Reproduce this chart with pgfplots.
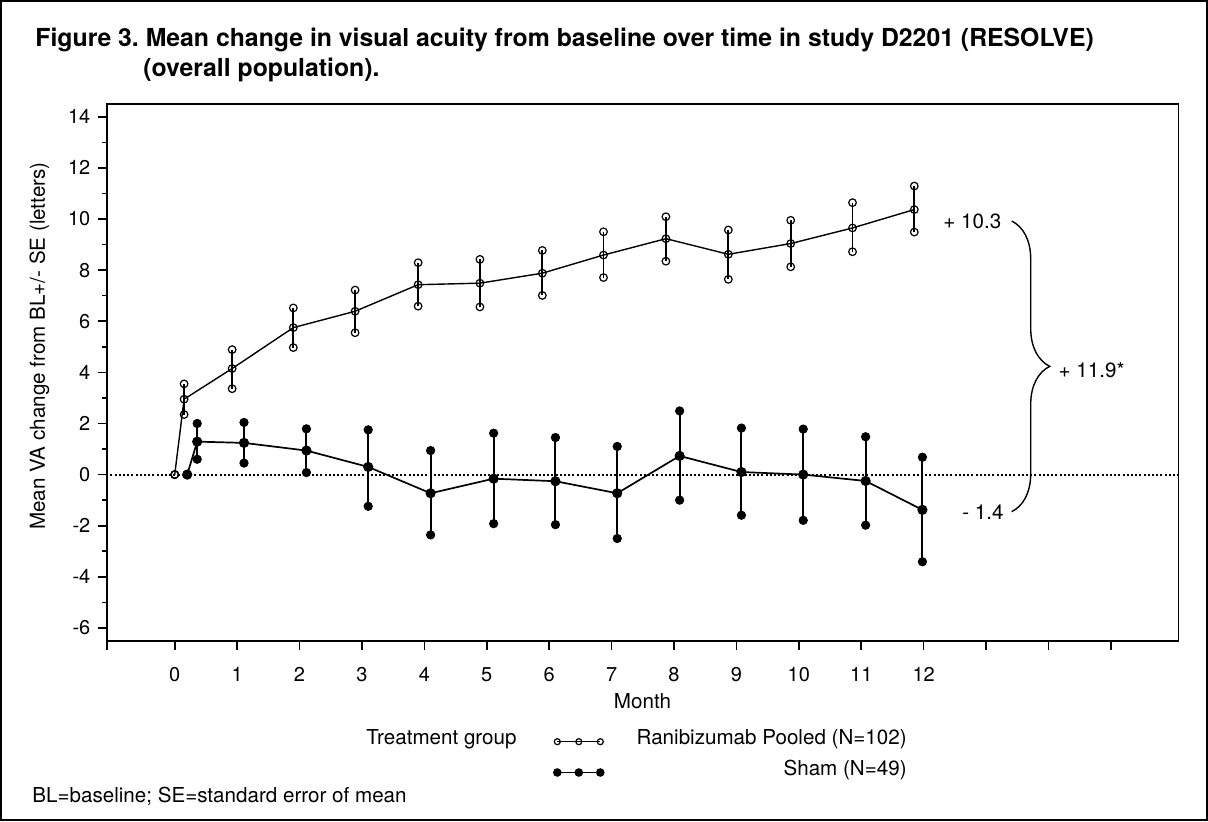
\documentclass[border=0pt]{standalone}
\usepackage{fontspec}
\setmainfont{TeX Gyre Heros}
\usepackage{pgfplots}
\usepackage{pgfplotstable}
\pgfplotsset{compat=1.18}
\usetikzlibrary{decorations.pathreplacing}
\frenchspacing

\pgfplotstableread{
x y ep em
0.00 0.00 0 0
0.15 2.95 0.60 0.60
0.92 4.15 0.74 0.79
1.90 5.75 0.77 0.78
2.89 6.39 0.83 0.84
3.90 7.43 0.86 0.84
4.89 7.49 0.93 0.93
5.89 7.88 0.89 0.87
6.87 8.59 0.91 0.88
7.87 9.23 0.86 0.88
8.87 8.62 0.95 0.98
9.87 9.04 0.91 0.91
10.86 9.65 0.99 0.93
11.85 10.37 0.92 0.88
}\rani

\pgfplotstableread{
x y ep em
0.20 0.00 0 0
0.36 1.29 0.71 0.69
1.11 1.24 0.80 0.79
2.11 0.94 0.85 0.86
3.10 0.30 1.45 1.54
4.10 -0.73 1.67 1.63
5.11 -0.16 1.78 1.76
6.10 -0.26 1.71 1.70
7.09 -0.73 1.83 1.77
8.09 0.73 1.76 1.73
9.08 0.10 1.72 1.69
10.07 0.00 1.78 1.79
11.07 -0.25 1.73 1.73
11.98 -1.38 2.06 2.03
}\sham

\newcommand{\txt}{\fontsize{10.3}{12}\selectfont}
\pgfplotsset{
  ranileg/.style={legend image code/.code={\draw[##1, mark size=1.5pt] plot coordinates {(0pt,-1pt) (10.75pt,-1pt) (21.5pt,-1pt)};}},
  shamleg/.style={legend image code/.code={\draw[##1, mark size=1.7pt] plot coordinates {(0pt,-1pt) (10.75pt,-1pt) (21.5pt,-1pt)};}},
}

\begin{document}
\begin{tikzpicture}[x=1pt,y=1pt]
\draw[line width=1pt] (-52.85,-89.65) rectangle (550.15,319.85);
\begin{axis}[
  at={(0,0)}, anchor=south west,
  scale only axis, width=535.8pt, height=268.35pt,
  xmin=-1.09, xmax=16.08, ymin=-6.5, ymax=14.5,
  axis line style={line width=0.8pt},
  xtick={-1.09,0,1,2,3,4,5,6,7,8,9,10,11,12,13,14,15},
  xticklabels={,0,1,2,3,4,5,6,7,8,9,10,11,12,,,},
  ytick={-6,-4,-2,0,2,4,6,8,10,12,14},
  yticklabels={-6,-4,-2,0,2,4,6,8,10,12,14},
  minor ytick={-5,-3,-1,1,3,5,7,9,11,13},
  tick align=outside, xtick pos=bottom, ytick pos=left,
  major tick length=4.5pt, minor tick length=2.2pt,
  major tick style={line width=0.8pt, black},
  minor tick style={line width=0.8pt, black},
  tick label style={font=\fontsize{10}{12}\selectfont, inner sep=0pt},
  xticklabel style={anchor=base, yshift=-16pt},
  yticklabel style={anchor=east, xshift=-3.5pt},
  clip=false,
  legend cell align=right,
  legend style={draw=none, fill=none, inner sep=0pt, outer sep=0pt,
    at={(axis description cs:0.7465,-0.1658)}, anchor=north east,
    row sep=5.4pt, column sep=16.5pt, font=\txt,
    nodes={inner sep=0pt, text height=7.5pt, text depth=2.5pt}},
]
\draw[line width=1pt, dash pattern=on 1pt off 1.1pt] (axis cs:-1.03,0) -- (axis cs:16.08,0);

\addplot[black, solid, line width=0.7pt, mark=o, mark size=1.9pt,
  mark options={line width=0.6pt, solid},
  error bars/y dir=both, error bars/y explicit,
  error bars/error mark=o,
  error bars/error mark options={mark size=1.9pt, line width=0.6pt, solid},
  error bars/error bar style={line width=0.95pt, solid},
  ranileg
] table[x=x, y=y, y error plus=ep, y error minus=em]{\rani};
\addlegendentry{Ranibizumab Pooled (N=102)}

\addplot[black, solid, line width=0.85pt, mark=*, mark size=2.1pt,
  mark options={solid, fill=black},
  error bars/y dir=both, error bars/y explicit,
  error bars/error mark=*,
  error bars/error mark options={mark size=2.1pt, fill=black, solid},
  error bars/error bar style={line width=1pt, solid},
  shamleg
] table[x=x, y=y, y error plus=ep, y error minus=em]{\sham};
\addlegendentry{Sham (N=49)}
\end{axis}

\node[anchor=base west, inner sep=0pt, font=\bfseries\fontsize{12.4}{14}\selectfont] at (-35.85,297.0) {Figure 3. Mean change in visual acuity from baseline over time in study D2201 (RESOLVE)};
\node[anchor=base west, inner sep=0pt, font=\bfseries\fontsize{12.4}{14}\selectfont] at (18.15,282.2) {(overall population).};

\node[rotate=90, inner sep=0pt, font=\txt] at (-33.6,147.35) {Mean VA change from BL+/- SE (letters)};
\node[anchor=base, inner sep=0pt, font=\txt] at (267.9,-33.65) {Month};

\node[anchor=base east, inner sep=0pt, font=\txt] at (205.15,-52.0) {Treatment group};
\node[anchor=base west, inner sep=0pt, font=\txt] at (-37.35,-80.65) {BL=baseline; SE=standard error of mean};

\node[anchor=east, inner sep=0pt, font=\txt] at (447.5,209.5) {+ 10.3};
\node[anchor=east, inner sep=0pt, font=\txt] at (448.65,64.5) {- 1.4};
\node[anchor=west, inner sep=0pt, font=\txt] at (475.8,135.35) {+ 11.9*};
\draw[line width=0.7pt, decorate, decoration={brace, amplitude=19pt}] (452.5,209.85) -- (452.5,64.5);
\end{tikzpicture}
\end{document}
